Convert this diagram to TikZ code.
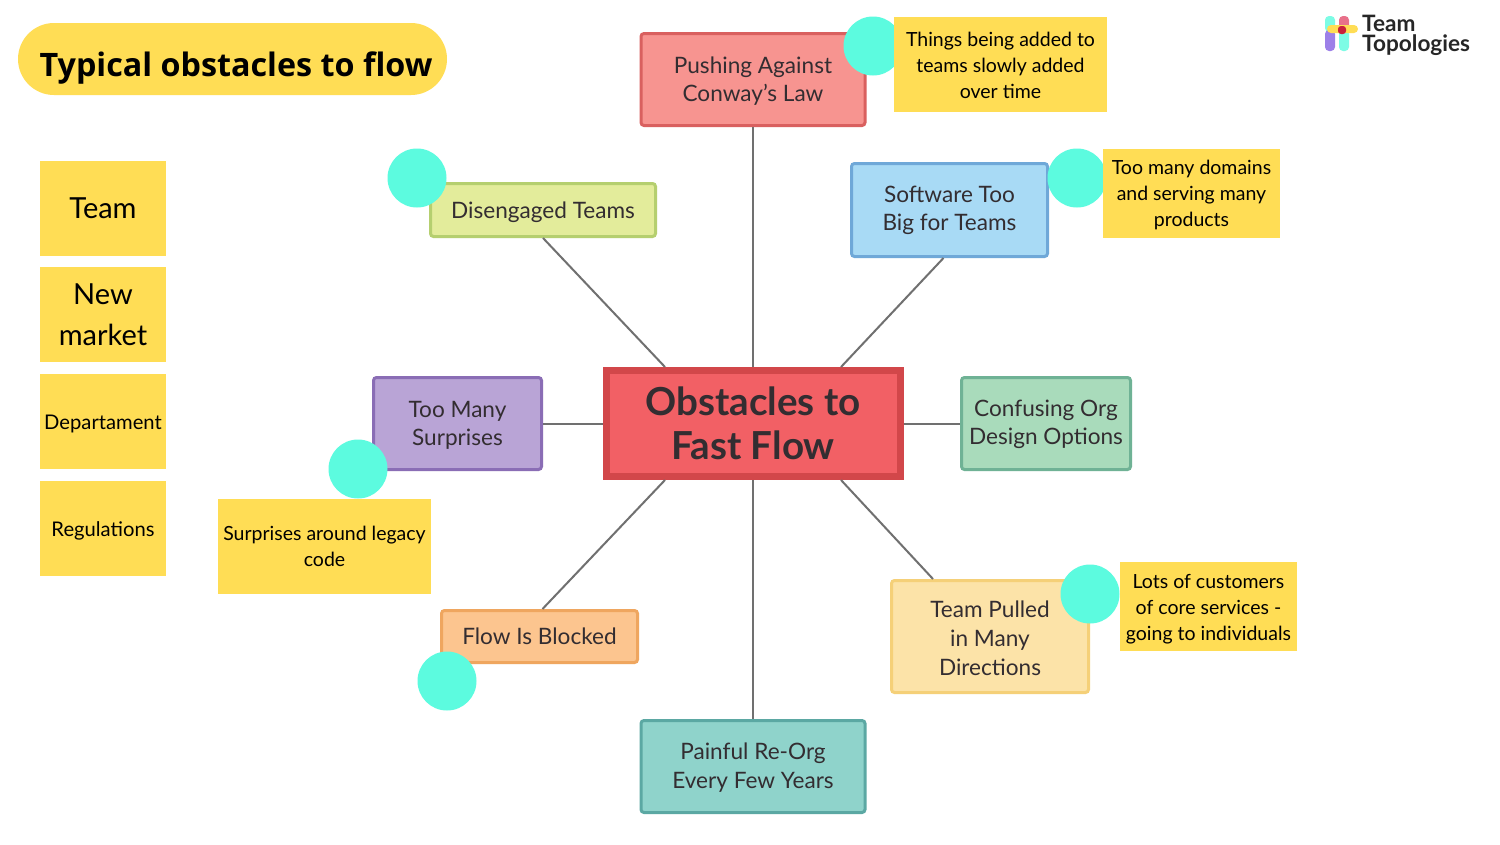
\documentclass[tikz,border=0pt]{standalone}
\usepackage{fontspec}
\setmainfont{Lato}
\newfontfamily\titlefont{Open Sans}
\definecolor{stickyyellow}{HTML}{FFDD55}
\definecolor{dotteal}{HTML}{5CFBDF}
\definecolor{linegrey}{HTML}{707070}
\definecolor{inktext}{HTML}{332D31}
\definecolor{centerline}{HTML}{D2474A}\definecolor{centerfill}{HTML}{F26065}
\definecolor{conwayline}{HTML}{D9605F}\definecolor{conwayfill}{HTML}{F79490}
\definecolor{disengagedline}{HTML}{B5CF6F}\definecolor{disengagedfill}{HTML}{E3EC9B}
\definecolor{softwareline}{HTML}{6FA8D8}\definecolor{softwarefill}{HTML}{A8DAF5}
\definecolor{surprisesline}{HTML}{8A6DB5}\definecolor{surprisesfill}{HTML}{B9A4D6}
\definecolor{confusingline}{HTML}{6FB295}\definecolor{confusingfill}{HTML}{A9DBBB}
\definecolor{pulledline}{HTML}{F5D078}\definecolor{pulledfill}{HTML}{FCE3A8}
\definecolor{blockedline}{HTML}{EFA65F}\definecolor{blockedfill}{HTML}{FCC58F}
\definecolor{reorgline}{HTML}{5BA8A3}\definecolor{reorgfill}{HTML}{8FD3CB}
\definecolor{logoviolet}{HTML}{9C80E8}
\definecolor{logopink}{HTML}{E8708A}
\definecolor{logored}{HTML}{C8203C}
\newcommand{\nudge}[1]{\rule{0pt}{#1pt}}
\begin{document}
\begin{tikzpicture}[x=1pt, y=-1pt,
	mapbox/.style={draw=#1line, fill=#1fill, line width=3pt, rounded corners=3pt, align=center, text=inktext, font=\fontsize{22.6}{28}\selectfont, inner sep=0pt},
	sticky/.style={fill=stickyyellow, align=center, inner sep=0pt, font=\fontsize{19.5}{26}\selectfont},
	sidenote/.style={sticky, minimum width=126pt, minimum height=95pt, font=\fontsize{20.2}{26}\selectfont},
	dot/.style={circle, fill=dotteal, minimum size=59pt, inner sep=0pt},
	spoke/.style={draw=linegrey, line width=2pt}]
	\useasboundingbox (0,0) rectangle (1500,844);
	\fill[white] (0,0) rectangle (1500,844);
	% title and left column
	\node[fill=stickyyellow, rounded corners=36pt, minimum width=429pt, minimum height=72pt, inner sep=0pt, font=\titlefont\bfseries\fontsize{32.3}{36}\selectfont] (title) at (232.5,59) {\nudge{42}\hspace*{7pt}Typical obstacles to flow};
	\node[sidenote, font=\fontsize{29}{40}\selectfont] (team) at (103,208.5) {\nudge{21}Team};
	\node[sidenote, font=\fontsize{29}{41}\selectfont] (market) at (103,314.5) {New\\market};
	\node[sidenote] (dept) at (103,421.5) {\nudge{19}Departament};
	\node[sidenote] (regs) at (103,528.5) {\nudge{20.5}Regulations};
	% the map
	\node[mapbox=center, line width=7pt, rounded corners=0pt, minimum width=294pt, minimum height=106pt, font=\bfseries\fontsize{38.6}{44}\selectfont] (center) at (753,423.5) {Obstacles to\\Fast Flow};
	\node[mapbox=conway, minimum width=224pt, minimum height=92pt] (conway) at (753,79.5) {\nudge{20.5}Pushing Against\\Conway's Law};
	\node[mapbox=disengaged, minimum width=225pt, minimum height=53pt] (disengaged) at (543,210) {\nudge{20.5}Disengaged Teams};
	\node[mapbox=software, minimum width=196pt, minimum height=93pt] (software) at (949.5,210) {\nudge{17.5}Software Too\\Big for Teams};
	\node[mapbox=surprises, minimum width=168pt, minimum height=92pt] (surprises) at (457.5,423.5) {\nudge{20.5}Too Many\\Surprises};
	\node[mapbox=confusing, minimum width=169pt, minimum height=92pt] (confusing) at (1046,423.5) {\nudge{18.5}Confusing Org\\Design Options};
	\node[mapbox=pulled, minimum width=197pt, minimum height=112pt, font=\fontsize{22.6}{29}\selectfont] (pulled) at (990,636.5) {\nudge{20.5}Team Pulled\\in Many\\Directions};
	\node[mapbox=blocked, minimum width=196pt, minimum height=52pt] (blocked) at (539.5,636.5) {Flow Is Blocked};
	\node[mapbox=reorg, minimum width=224pt, minimum height=92pt, font=\fontsize{22.6}{29}\selectfont] (reorg) at (753,766.5) {\nudge{18.5}Painful Re-Org\\Every Few Years};
	% spokes
	\draw[spoke] (center.north) -- (conway.south);
	\draw[spoke] (center.south) -- (reorg.north);
	\draw[spoke] (center.west) -- (surprises.east);
	\draw[spoke] (center.east) -- (confusing.west);
	\draw[spoke] ([xshift=-88pt]center.north) -- (disengaged.south);
	\draw[spoke] ([xshift=88pt]center.north) -- ([xshift=-6pt]software.south);
	\draw[spoke] ([xshift=-88pt]center.south) -- ([xshift=3pt]blocked.north);
	\draw[spoke] ([xshift=88pt]center.south) -- ([xshift=-57pt]pulled.north);
	% dots
	\node[dot] (dotconway) at (873,46) {};
	\node[dot] (dotdisengaged) at (417,178) {};
	\node[dot] (dotsoftware) at (1077,178) {};
	\node[dot] (dotsurprises) at (358,469) {};
	\node[dot] (dotblocked) at (447,681) {};
	\node[dot] (dotpulled) at (1090,594) {};
	% notes
	\node[sticky, minimum width=213pt, minimum height=95pt] (noteconway) at (1000.5,64.5) {\nudge{16.3}Things being added to\\teams slowly added\\over time};
	\node[sticky, minimum width=177pt, minimum height=89pt] (notesoftware) at (1191.5,193.5) {\nudge{17.3}Too many domains\\and serving many\\products};
	\node[sticky, minimum width=213pt, minimum height=95pt] (notesurprises) at (324.5,546.5) {Surprises around legacy\\code};
	\node[sticky, minimum width=177pt, minimum height=89pt] (notepulled) at (1208.5,606.5) {\nudge{20.3}Lots of customers\\of core services -\\going to individuals};
	% logo
	\fill[dotteal!80!white, rounded corners=4pt] (1325,16) rectangle (1335,32);
	\fill[logoviolet, rounded corners=4pt] (1325,30) rectangle (1335,51);
	\fill[logopink, rounded corners=4pt] (1339,16) rectangle (1349,32);
	\fill[dotteal!80!white, rounded corners=4pt] (1339,30) rectangle (1349,51);
	\fill[stickyyellow, rounded corners=4pt] (1327,25) rectangle (1358,33);
	\fill[logored, rounded corners=3pt] (1338,26) rectangle (1346,34);
	\node[align=left, anchor=west, inner sep=0pt, text=black!85, font=\bfseries\fontsize{22.6}{20}\selectfont] (logo) at (1362,35) {Team\\Topologies};
\end{tikzpicture}
\end{document}
